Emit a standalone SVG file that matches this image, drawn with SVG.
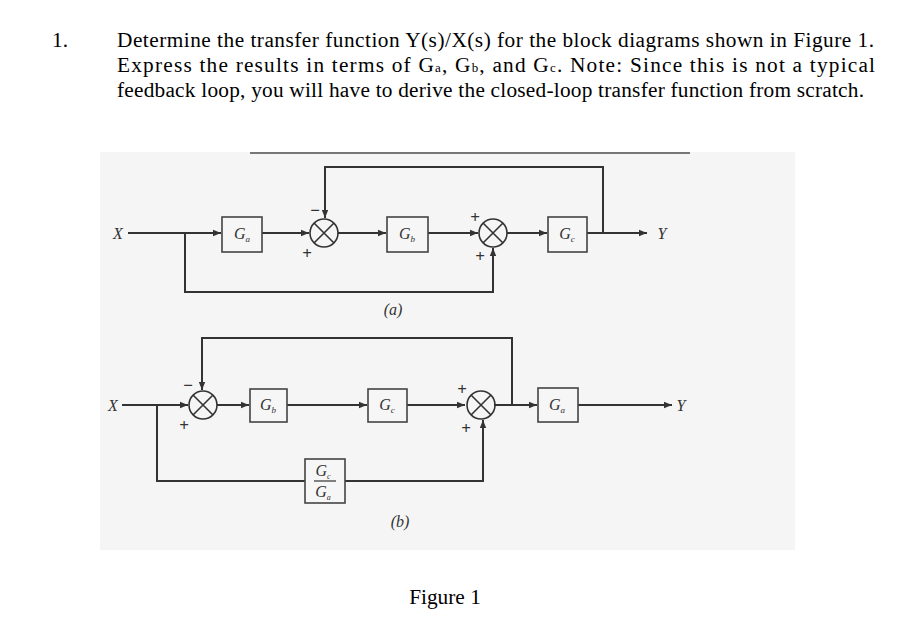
<svg xmlns="http://www.w3.org/2000/svg" width="910" height="636" viewBox="0 0 910 636">
<defs>
<marker id="ar" viewBox="0 0 10 10" refX="10" refY="5" markerWidth="8" markerHeight="8" orient="auto" markerUnits="userSpaceOnUse"><path d="M0,1 L10,5 L0,9 z" fill="#333"/></marker>
<style>
.t{font-family:"Liberation Serif",serif;font-size:21.3px;fill:#000}
.l{fill:none;stroke:#333;stroke-width:2}
.b{fill:#f6f6f6;stroke:#444;stroke-width:1.6}
.s{fill:none;stroke:#333;stroke-width:1.6}
.g{font-family:"Liberation Serif",serif;font-style:italic;font-size:16px;fill:#333;text-anchor:middle}
.p{font-family:"Liberation Serif",serif;font-size:17px;font-weight:bold;fill:#333;text-anchor:middle}
</style>
</defs>
<rect width="910" height="636" fill="#fff"/>
<text class="t" x="52" y="47">1.</text>
<text class="t" x="117" y="47" textLength="757" lengthAdjust="spacing">Determine the transfer function Y(s)/X(s) for the block diagrams shown in Figure 1.</text>
<text class="t" x="117" y="72" textLength="758" lengthAdjust="spacing">Express the results in terms of G<tspan font-size="13">a</tspan>, G<tspan font-size="13">b</tspan>, and G<tspan font-size="13">c</tspan>.  Note:  Since this is not a typical</text>
<text class="t" x="117" y="97" textLength="747" lengthAdjust="spacing">feedback loop, you will have to derive the closed-loop transfer function from scratch.</text>
<rect x="100" y="152" width="695" height="398" fill="#f5f5f5"/>
<line x1="250" y1="153" x2="690" y2="153" stroke="#777" stroke-width="2"/>
<g id="connectors">
<path class="l" d="M128,233 H221" marker-end="url(#ar)"/>
<path class="l" d="M185,233 V292 H493 V248" marker-end="url(#ar)"/>
<path class="l" d="M262,233 H309" marker-end="url(#ar)"/>
<path class="l" d="M338,233 H386" marker-end="url(#ar)"/>
<path class="l" d="M428,233 H478" marker-end="url(#ar)"/>
<path class="l" d="M507,233 H547" marker-end="url(#ar)"/>
<path class="l" d="M587,233 H647" marker-end="url(#ar)"/>
<path class="l" d="M603,233 V167 H325 V218" marker-end="url(#ar)"/>
<path class="l" d="M122,405 H188" marker-end="url(#ar)"/>
<path class="l" d="M157,405 V481 H305"/>
<path class="l" d="M345,481 H483 V420" marker-end="url(#ar)"/>
<path class="l" d="M217,405 H249" marker-end="url(#ar)"/>
<path class="l" d="M287,405 H367" marker-end="url(#ar)"/>
<path class="l" d="M407,405 H465" marker-end="url(#ar)"/>
<path class="l" d="M494,405 H537" marker-end="url(#ar)"/>
<path class="l" d="M578,405 H672" marker-end="url(#ar)"/>
<path class="l" d="M512,405 V338 H202 V390" marker-end="url(#ar)"/>
</g>
<g id="a-labels"><text class="g" x="118" y="239">X</text><text class="g" x="662" y="239">Y</text><text class="g" x="393" y="315" font-size="14">(a)</text></g>
<g id="a-Ga"><rect class="b" x="222" y="217" width="40" height="35"/><text class="g" x="242" y="239">G<tspan font-size="9" dy="3">a</tspan></text></g>
<g id="a-sum1"><circle class="s" cx="324" cy="233" r="14" fill="#f6f6f6"/><path class="s" d="M314,223 L334,243 M334,223 L314,243"/><text class="p" x="315" y="216">−</text><text class="p" x="307" y="259">+</text></g>
<g id="a-Gb"><rect class="b" x="387" y="217" width="41" height="35"/><text class="g" x="407" y="239">G<tspan font-size="9" dy="3">b</tspan></text></g>
<g id="a-sum2"><circle class="s" cx="493" cy="233" r="14" fill="#f6f6f6"/><path class="s" d="M483,223 L503,243 M503,223 L483,243"/><text class="p" x="475" y="223">+</text><text class="p" x="480" y="262">+</text></g>
<g id="a-Gc"><rect class="b" x="548" y="217" width="39" height="35"/><text class="g" x="567" y="239">G<tspan font-size="9" dy="3">c</tspan></text></g>
<g id="b-labels"><text class="g" x="113" y="411">X</text><text class="g" x="681" y="411">Y</text><text class="g" x="400" y="527" font-size="14">(b)</text></g>
<g id="b-sum1"><circle class="s" cx="203" cy="405" r="14" fill="#f6f6f6"/><path class="s" d="M193,395 L213,415 M213,395 L193,415"/><text class="p" x="188" y="391">−</text><text class="p" x="184" y="431">+</text></g>
<g id="b-Gb"><rect class="b" x="250" y="389" width="37" height="33"/><text class="g" x="268" y="410">G<tspan font-size="9" dy="3">b</tspan></text></g>
<g id="b-Gc"><rect class="b" x="368" y="389" width="39" height="33"/><text class="g" x="387" y="410">G<tspan font-size="9" dy="3">c</tspan></text></g>
<g id="b-sum2"><circle class="s" cx="481" cy="405" r="14" fill="#f6f6f6"/><path class="s" d="M471,395 L491,415 M491,395 L471,415"/><text class="p" x="462" y="395">+</text><text class="p" x="466" y="434">+</text></g>
<g id="b-Ga"><rect class="b" x="538" y="388" width="40" height="34"/><text class="g" x="557" y="410">G<tspan font-size="9" dy="3">a</tspan></text></g>
<g id="b-GcGa"><rect class="b" x="305" y="459" width="40" height="44"/><text class="g" x="323" y="476" font-size="13">G<tspan font-size="8" dy="3">c</tspan></text><line x1="314" y1="481" x2="336" y2="481" stroke="#333" stroke-width="1.2"/><text class="g" x="323" y="497" font-size="13">G<tspan font-size="8" dy="3">a</tspan></text></g>
<text class="t" x="445" y="604" text-anchor="middle">Figure 1</text>
</svg>
